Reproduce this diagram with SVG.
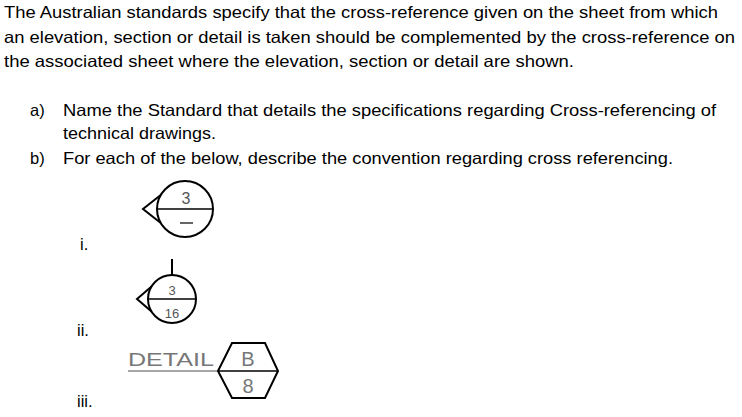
<svg xmlns="http://www.w3.org/2000/svg" width="742" height="417" viewBox="0 0 742 417">
<style>
.t{font-family:"Liberation Sans",Arial,sans-serif;font-size:16.5px;fill:#000}
.s{fill:#fff;stroke:#000;stroke-width:2}
.n{font-family:"Liberation Sans",Arial,sans-serif;text-anchor:middle}
.d{font-family:"Liberation Sans",Arial,sans-serif;font-size:19px;fill:#777}
</style>
<rect width="742" height="417" fill="#fff"/>
<g id="text">
<text class="t" x="4" y="18" textLength="714" lengthAdjust="spacingAndGlyphs">The Australian standards specify that the cross-reference given on the sheet from which</text>
<text class="t" x="4" y="43" textLength="731" lengthAdjust="spacingAndGlyphs">an elevation, section or detail is taken should be complemented by the cross-reference on</text>
<text class="t" x="4" y="67" textLength="570" lengthAdjust="spacingAndGlyphs">the associated sheet where the elevation, section or detail are shown.</text>
<text class="t" x="30" y="116">a)</text>
<text class="t" x="63" y="116" textLength="653" lengthAdjust="spacingAndGlyphs">Name the Standard that details the specifications regarding Cross-referencing of</text>
<text class="t" x="63" y="139" textLength="153" lengthAdjust="spacingAndGlyphs">technical drawings.</text>
<text class="t" x="30" y="164">b)</text>
<text class="t" x="63" y="164" textLength="610" lengthAdjust="spacingAndGlyphs">For each of the below, describe the convention regarding cross referencing.</text>
<text class="t" x="80" y="250">i.</text>
<text class="t" x="77" y="336">ii.</text>
<text class="t" x="77" y="407">iii.</text>
</g>
<g id="symbol1">
<path class="s" d="M162,194 L143,209 L162,224 Z"/>
<circle class="s" cx="185" cy="209" r="28"/>
<line x1="157" y1="209" x2="213" y2="209" stroke="#000" stroke-width="1.5"/>
<text class="n" x="186" y="204" font-size="16" fill="#555">3</text>
<line x1="180" y1="223" x2="193" y2="223" stroke="#000" stroke-width="1.2"/>
</g>
<g id="symbol2">
<line x1="172" y1="259" x2="172" y2="276" stroke="#000" stroke-width="2"/>
<path class="s" d="M151,287 L137,299 L151,311 Z"/>
<circle class="s" cx="172" cy="299" r="24"/>
<line x1="148" y1="299" x2="196" y2="299" stroke="#000" stroke-width="1.5"/>
<text class="n" x="172" y="295" font-size="13" fill="#555">3</text>
<text class="n" x="172" y="318" font-size="13" fill="#555">16</text>
</g>
<g id="symbol3">
<text class="d" x="128" y="366" textLength="86" lengthAdjust="spacingAndGlyphs">DETAIL</text>
<line x1="128" y1="371" x2="218" y2="371" stroke="#888" stroke-width="1.5"/>
<path d="M218,371 L232,343 L265,343 L278,371 L265,398 L232,398 Z" fill="#fff" stroke="#000" stroke-width="2"/>
<line x1="218" y1="371" x2="278" y2="371" stroke="#000" stroke-width="1.5"/>
<text class="n" x="248" y="366" font-size="20" fill="#777">B</text>
<text class="n" x="248" y="393" font-size="20" fill="#777">8</text>
</g>
</svg>
